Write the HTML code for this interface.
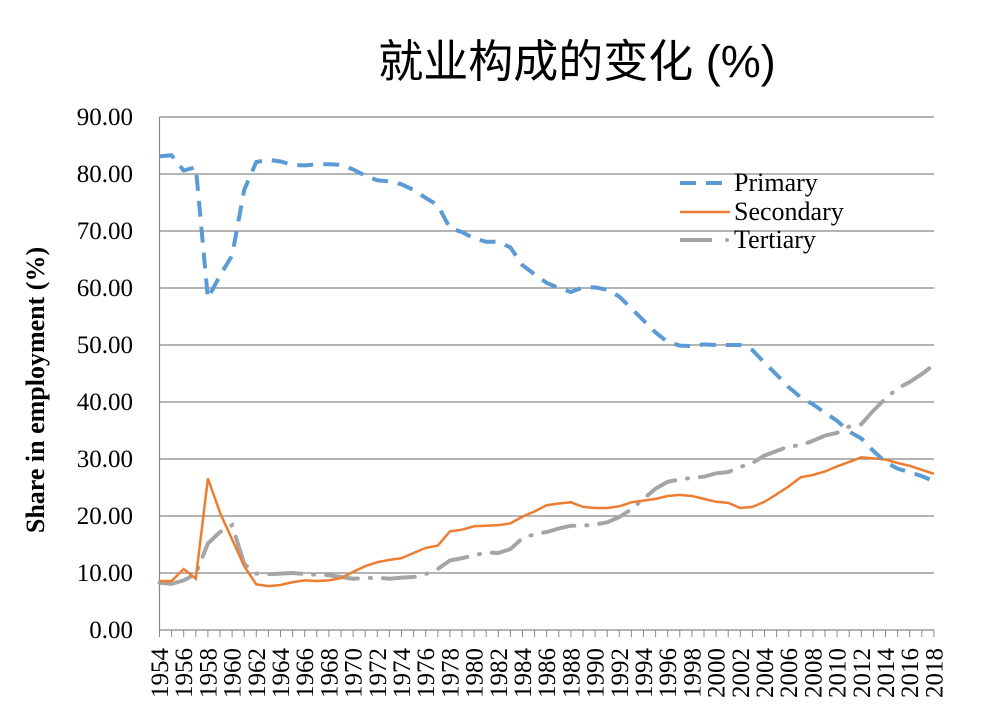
<!DOCTYPE html>
<html><head><meta charset="utf-8"><style>
body{margin:0;background:#fff}
svg text{font-family:"Liberation Serif","Noto Serif CJK SC",serif}
</style></head><body>
<svg id="s" width="1000" height="720" xmlns="http://www.w3.org/2000/svg">
<text x="577" y="77" text-anchor="middle" font-size="45" style='font-family:"Liberation Sans","Noto Sans CJK SC",sans-serif'>就业构成的变化 (%)</text>
<text transform="translate(44,390) rotate(-90)" text-anchor="middle" font-size="26" font-weight="bold">Share in employment (%)</text>
<g id="g"></g>
<line x1="680" y1="183" x2="730" y2="183" stroke="#5b9bd5" stroke-width="4" stroke-dasharray="16,10"/>
<text x="734" y="191" font-size="26">Primary</text>
<line x1="680" y1="212" x2="730" y2="212" stroke="#ed7d31" stroke-width="2.5"/>
<text x="734" y="220" font-size="26">Secondary</text>
<line x1="680" y1="240" x2="712" y2="240" stroke="#a5a5a5" stroke-width="4"/>
<circle cx="727" cy="240" r="2" fill="#a5a5a5"/>
<text x="734" y="248" font-size="26">Tertiary</text>
</svg>
<script>
var P=[83.1,83.3,80.6,81.2,58.2,62.2,65.7,77.2,82.1,82.5,82.2,81.6,81.5,81.7,81.7,81.6,80.8,79.7,78.9,78.7,78.2,77.2,75.8,74.5,70.5,69.8,68.7,68.1,68.1,67.1,64.0,62.4,60.9,60.0,59.3,60.1,60.1,59.7,58.5,56.4,54.3,52.2,50.5,49.9,49.8,50.1,50.0,50.0,50.0,49.1,46.9,44.8,42.6,40.8,39.6,38.1,36.7,34.8,33.6,31.4,29.5,28.3,27.7,27.0,26.1];
var S=[8.6,8.6,10.7,9.0,26.6,20.6,15.9,11.2,8.0,7.7,7.9,8.4,8.7,8.6,8.7,9.1,10.2,11.2,11.9,12.3,12.6,13.5,14.4,14.8,17.3,17.6,18.2,18.3,18.4,18.7,19.9,20.8,21.9,22.2,22.4,21.6,21.4,21.4,21.7,22.4,22.7,23.0,23.5,23.7,23.5,23.0,22.5,22.3,21.4,21.6,22.5,23.8,25.2,26.8,27.2,27.8,28.7,29.5,30.3,30.1,29.9,29.3,28.8,28.1,27.4];
function X(i){return 159.5+i*12.1}function Y(v){return 630-v*5.7}
var h='';
for(var k=0;k<=9;k++){var y=Y(k*10);if(k>0)h+='<line x1="159.5" y1="'+y+'" x2="934" y2="'+y+'" stroke="#888" stroke-width="1.2"/>';
h+='<text x="133" y="'+(y+8)+'" text-anchor="end" font-size="25">'+(k*10)+'.00</text>';}
h+='<line x1="159.5" y1="117" x2="159.5" y2="630" stroke="#888" stroke-width="1.2"/><line x1="159.5" y1="630" x2="934" y2="630" stroke="#888" stroke-width="1.2"/>';
for(var i=0;i<65;i++){var x=X(i);h+='<line x1="'+x+'" y1="630" x2="'+x+'" y2="637" stroke="#888"/>';
if(i%2==0)h+='<text transform="translate('+(x+8.5)+',698) rotate(-90)" font-size="25">'+(1954+i)+'</text>';}
function pts(a){return a.map(function(v,i){return X(i).toFixed(1)+','+Y(v).toFixed(1)}).join(' ')}
var T=P.map(function(v,i){return 100-v-S[i]});
h+='<polyline points="'+pts(T)+'" fill="none" stroke="#a5a5a5" stroke-width="4" stroke-dasharray="32,12,1,12" stroke-linecap="round"/>';
h+='<polyline points="'+pts(S)+'" fill="none" stroke="#ed7d31" stroke-width="2.5"/>';
h+='<polyline points="'+pts(P)+'" fill="none" stroke="#5b9bd5" stroke-width="4" stroke-dasharray="16,10"/>';
document.getElementById('g').innerHTML=h;
</script>
</body></html>
